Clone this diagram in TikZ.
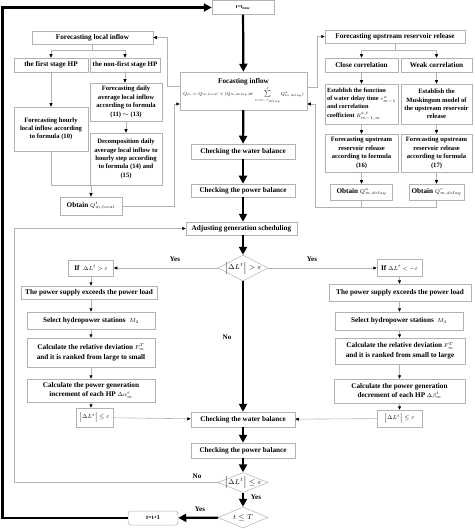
\documentclass[tikz,border=0pt]{standalone}
\usepackage{fontspec}
\setmainfont{Liberation Serif}
\usetikzlibrary{arrows.meta,shapes.geometric,calc}
\newcommand{\mth}[1]{\scalebox{0.82}{$#1$}}
\newcommand{\tinysub}[1]{{\scriptscriptstyle #1}}
\begin{document}
\begin{tikzpicture}[x=1pt,y=-1pt,
 box/.style={draw=gray!60, fill=white, line width=0.5pt, inner sep=0.5pt, align=center, font=\bfseries\fontsize{7.2}{9}\selectfont},
 sbox/.style={box, font=\bfseries\fontsize{6.6}{8.4}\selectfont},
 dia/.style={draw=gray!60, fill=white, line width=0.5pt, shape=diamond, aspect=2, inner sep=0pt},
 diatext/.style={inner sep=0pt, font=\fontsize{7}{8}\selectfont},
 thinarrow/.style={draw=gray!60, line width=0.6pt, -{Triangle[length=3.5pt,width=3pt,color=black]}},
 thinline/.style={draw=gray!60, line width=0.6pt},
 mainarrow/.style={line width=2.2pt, -{Triangle[length=8pt,width=8pt]}},
 lab/.style={font=\bfseries\fontsize{7}{8}\selectfont, inner sep=0pt},
]
\useasboundingbox (0,0) rectangle (474,529);
% central column
\node[box, minimum width=62, minimum height=14, font=\bfseries\fontsize{5.5}{6}\selectfont] (tnow) at (243,7.5) {t=t$_{\mathbf{now}}$};
\node[box, minimum width=127, minimum height=38] (finflow) at (243.5,91) {Focasting inflow\\[1pt]
 \resizebox{121pt}{!}{$Q_{\tinysub{m}} = Q_{\tinysub{m,local}}+(Q_{\tinysub{m,delay}}\ \mbox{\normalfont\itshape or}\ \sum\limits_{\tinysub{n=t-\tau_{delay}}}^{\tinysub{t}} Q^{\tinysub{a}}_{\tinysub{m,delay}})$}};
\node[box, minimum width=104, minimum height=15] (cwb1) at (243,151.5) {Checking the water balance};
\node[box, minimum width=104, minimum height=13] (cpb1) at (243,190.5) {Checking the power balance};
\node[box, minimum width=111, minimum height=13] (adj) at (241.5,228.5) {Adjusting generation scheduling};
\node[dia, minimum width=50, minimum height=26] (d1) at (243,268) {};
\node[diatext] (d1t) at (d1) {$\left|\Delta L^t\right| > \varepsilon$};
\node[box, minimum width=104, minimum height=15] (cwb2) at (243,419.5) {Checking the water balance};
\node[box, minimum width=104, minimum height=15] (cpb2) at (243,450.5) {Checking the power balance};
\node[dia, minimum width=50, minimum height=20] (d2) at (243,482.5) {};
\node[diatext] (d2t) at (d2) {$\left|\Delta L^t\right| \le \varepsilon$};
\node[dia, minimum width=50, minimum height=21] (d3) at (243,517.5) {};
\node[diatext] (d3t) at (d3) {$t \le T$};
\node[box, rounded corners=3pt, minimum width=50, minimum height=14, font=\bfseries\fontsize{6}{7}\selectfont] (tt1) at (153,518) {t=t+1};
% upper left
\node[box, minimum width=121, minimum height=13] (fli) at (92.5,37.5) {Forecasting local inflow};
\node[box, minimum width=74, minimum height=14] (fs) at (51,65) {the first stage HP};
\node[box, minimum width=70, minimum height=14, font=\bfseries\fontsize{6.9}{9}\selectfont] (nfs) at (125,65) {the non-first stage HP};
\node[sbox, minimum width=72, minimum height=38] (fdaily) at (126,102) {Forecasting daily\\average local inflow\\according to formula\\(11) $\sim$ (13)};
\node[sbox, minimum width=74, minimum height=44] (fhourly) at (51,129) {Forecasting hourly\\local inflow according\\to formula (10)};
\node[sbox, minimum width=72, minimum height=52] (decomp) at (126,159) {Decomposition daily\\average local inflow to\\hourly step according\\to formula (14) and\\(15)};
\node[box, minimum width=62, minimum height=18] (obtL) at (91,206) {Obtain \mth{Q^{t}_{m,local}}};
% upper right
\node[box, minimum width=140, minimum height=13] (fur) at (395,36.5) {Forecasting upstream reservoir release};
\node[box, minimum width=73, minimum height=14] (close) at (361.5,65) {Close correlation};
\node[box, minimum width=71, minimum height=14] (weak) at (436.5,65) {Weak correlation};
\node[sbox, minimum width=73, minimum height=40, align=left, font=\bfseries\fontsize{6.3}{8.4}\selectfont] (estF) at (361.5,104) {Establish the function\\of water delay time \mth{\tau^{a}_{m-1}}\\and correlation\\coefficient \mth{R^{a,t}_{m-1,m}}};
\node[sbox, minimum width=71, minimum height=40] (estM) at (436.5,104) {Establish the\\Muskingum model of\\the upstream reservoir\\release};
\node[sbox, minimum width=73, minimum height=38] (f16) at (361.5,153) {Forecasting upstream\\reservoir release\\according to formula\\(16)};
\node[sbox, minimum width=71, minimum height=38] (f17) at (436.5,153) {Forecasting upstream\\reservoir release\\according to formula\\(17)};
\node[box, minimum width=62, minimum height=16] (obtA) at (361.5,192) {Obtain \mth{Q^{a}_{m,delay}}};
\node[box, minimum width=55, minimum height=16] (obtR) at (436.5,192) {Obtain \mth{Q^{r}_{m,delay}}};
% lower left
\node[box, minimum width=45, minimum height=16] (ifL) at (91,268) {If \ \mth{\Delta L^t > \varepsilon}};
\node[box, minimum width=136, minimum height=13] (psL) at (89,292.5) {The power supply exceeds the power load};
\node[box, minimum width=128, minimum height=17] (selL) at (91,320.5) {Select hydropower stations \ \mth{M_2}};
\node[box, minimum width=128, minimum height=29] (calcL) at (91,352.5) {Calculate the relative deviation \mth{F^{T}_{m}}\\[1pt]and it is ranked from large to small};
\node[box, minimum width=128, minimum height=23] (incL) at (91,390.5) {Calculate the power generation\\increment of each HP \mth{\Delta\alpha^{t}_{m}}};
\node[box, minimum width=37, minimum height=19] (leL) at (94.5,417.5) {\mth{\left|\Delta L^t\right| \le \varepsilon}};
% lower right
\node[box, minimum width=45, minimum height=17] (ifR) at (399.5,268) {If \mth{\Delta L^t < -\varepsilon}};
\node[box, minimum width=142, minimum height=17] (psR) at (400,292.5) {The power supply exceeds the power load};
\node[box, minimum width=128, minimum height=18] (selR) at (399,321) {Select hydropower stations \ \mth{M_3}};
\node[box, minimum width=130, minimum height=26] (calcR) at (400,351) {Calculate the relative deviation \mth{F^{T}_{m}}\\[1pt]and it is ranked from small to large};
\node[box, minimum width=131, minimum height=24] (decR) at (399.5,391) {Calculate the power generation\\decrement of each HP \mth{\Delta\beta^{t}_{m}}};
\node[box, minimum width=45, minimum height=17] (leR) at (399.5,418.5) {\mth{\left|\Delta L^t\right| \le \varepsilon}};
% labels
\node[lab] (yes1) at (175,259) {Yes};
\node[lab] (yes2) at (312,259) {Yes};
\node[lab] (no1) at (227,337) {No};
\node[lab] (no2) at (197,476) {No};
\node[lab] (yes3) at (256,497) {Yes};
\node[lab] (yes4) at (200,509) {Yes};
% main thick flow
\draw[mainarrow] (tnow) -- (finflow);
\draw[mainarrow] (finflow) -- (cwb1);
\draw[mainarrow] (cwb1) -- (cpb1);
\draw[mainarrow] (cpb1) -- (adj.north -| cpb1);
\draw[mainarrow] (adj.south -| d1) -- (d1);
\draw[mainarrow] (d1) -- (cwb2);
\draw[mainarrow] (cwb2) -- (cpb2);
\draw[mainarrow] (cpb2) -- (d2);
\draw[mainarrow] (d2) -- (d3);
\draw[mainarrow] (d3) -- (tt1);
\coordinate (lc) at (2.5,518);
\draw[mainarrow] (tt1.west) -- (lc) |- (tnow.west);
% upper left connectors
\coordinate (sl) at (92.5,50);
\draw[thinline] (fli.south) -- (sl);
\draw[thinline] (fs.north |- sl) -- (nfs.north |- sl);
\draw[thinarrow] (fs.north |- sl) -- (fs.north);
\draw[thinarrow] (nfs.north |- sl) -- (nfs.north);
\draw[thinarrow] (fs) -- (fhourly);
\draw[thinarrow] (nfs.south) -- (nfs.south |- fdaily.north);
\draw[thinarrow] (fdaily) -- (decomp);
\draw[thinarrow] (fhourly.south) |- (obtL.north |- decomp.south) -- (obtL.north);
\coordinate (la) at (174,206);
\draw[thinarrow] (obtL.east) -- (la) |- (finflow.west |- 0,104);
\coordinate (lb) at (167,86);
\draw[thinarrow] (finflow.west |- lb) -- (lb) |- (fli.east);
% upper right connectors
\coordinate (sr) at (395,50);
\draw[thinline] (fur.south) -- (sr);
\draw[thinline] (close.north |- sr) -- (weak.north |- sr);
\draw[thinarrow] (close.north |- sr) -- (close.north);
\draw[thinarrow] (weak.north |- sr) -- (weak.north);
\draw[thinarrow] (close) -- (estF);
\draw[thinarrow] (weak) -- (estM);
\draw[thinarrow] (estF) -- (f16);
\draw[thinarrow] (estM) -- (f17);
\draw[thinarrow] (f16) -- (obtA);
\draw[thinarrow] (f17) -- (obtR);
\coordinate (rb) at (317,87);
\draw[thinarrow] (finflow.east |- rb) -- (rb) |- (fur.west);
\coordinate (ra) at (315,207);
\draw[thinline] (obtR.south) -- (obtR.south |- ra) -- (obtA.south |- ra);
\draw[thinline] (obtA.south) -- (obtA.south |- ra);
\draw[thinarrow] (obtA.south |- ra) -- (ra) |- (finflow.east |- 0,104);
% adjusting loop
\coordinate (lp) at (14,482.5);
\draw[thinarrow] (d2.west) -- (lp) |- (adj.west);
% branches
\draw[thinarrow] (d1.west) -- (ifL.east);
\draw[thinarrow] (d1.east) -- (ifR.west);
\draw[thinarrow] (ifL.south) -- (ifL.south |- psL.north);
\draw[thinarrow] (ifL.south |- psL.south) -- (selL.north);
\draw[thinarrow] (selL) -- (calcL);
\draw[thinarrow] (calcL) -- (incL);
\draw[thinarrow] (incL.south) -- (incL.south |- leL.north);
\draw[thinarrow] (leL) -- (cwb2);
\draw[thinarrow] (ifR.south) -- (ifR.south |- psR.north);
\draw[thinarrow] (ifR.south |- psR.south) -- (ifR.south |- selR.north);
\draw[thinarrow] (ifR.south |- selR.south) -- (ifR.south |- calcR.north);
\draw[thinarrow] (ifR.south |- calcR.south) -- (ifR.south |- decR.north);
\draw[thinarrow] (ifR.south |- decR.south) -- (leR.north);
\draw[thinarrow] (leR) -- (cwb2);
\end{tikzpicture}
\end{document}
